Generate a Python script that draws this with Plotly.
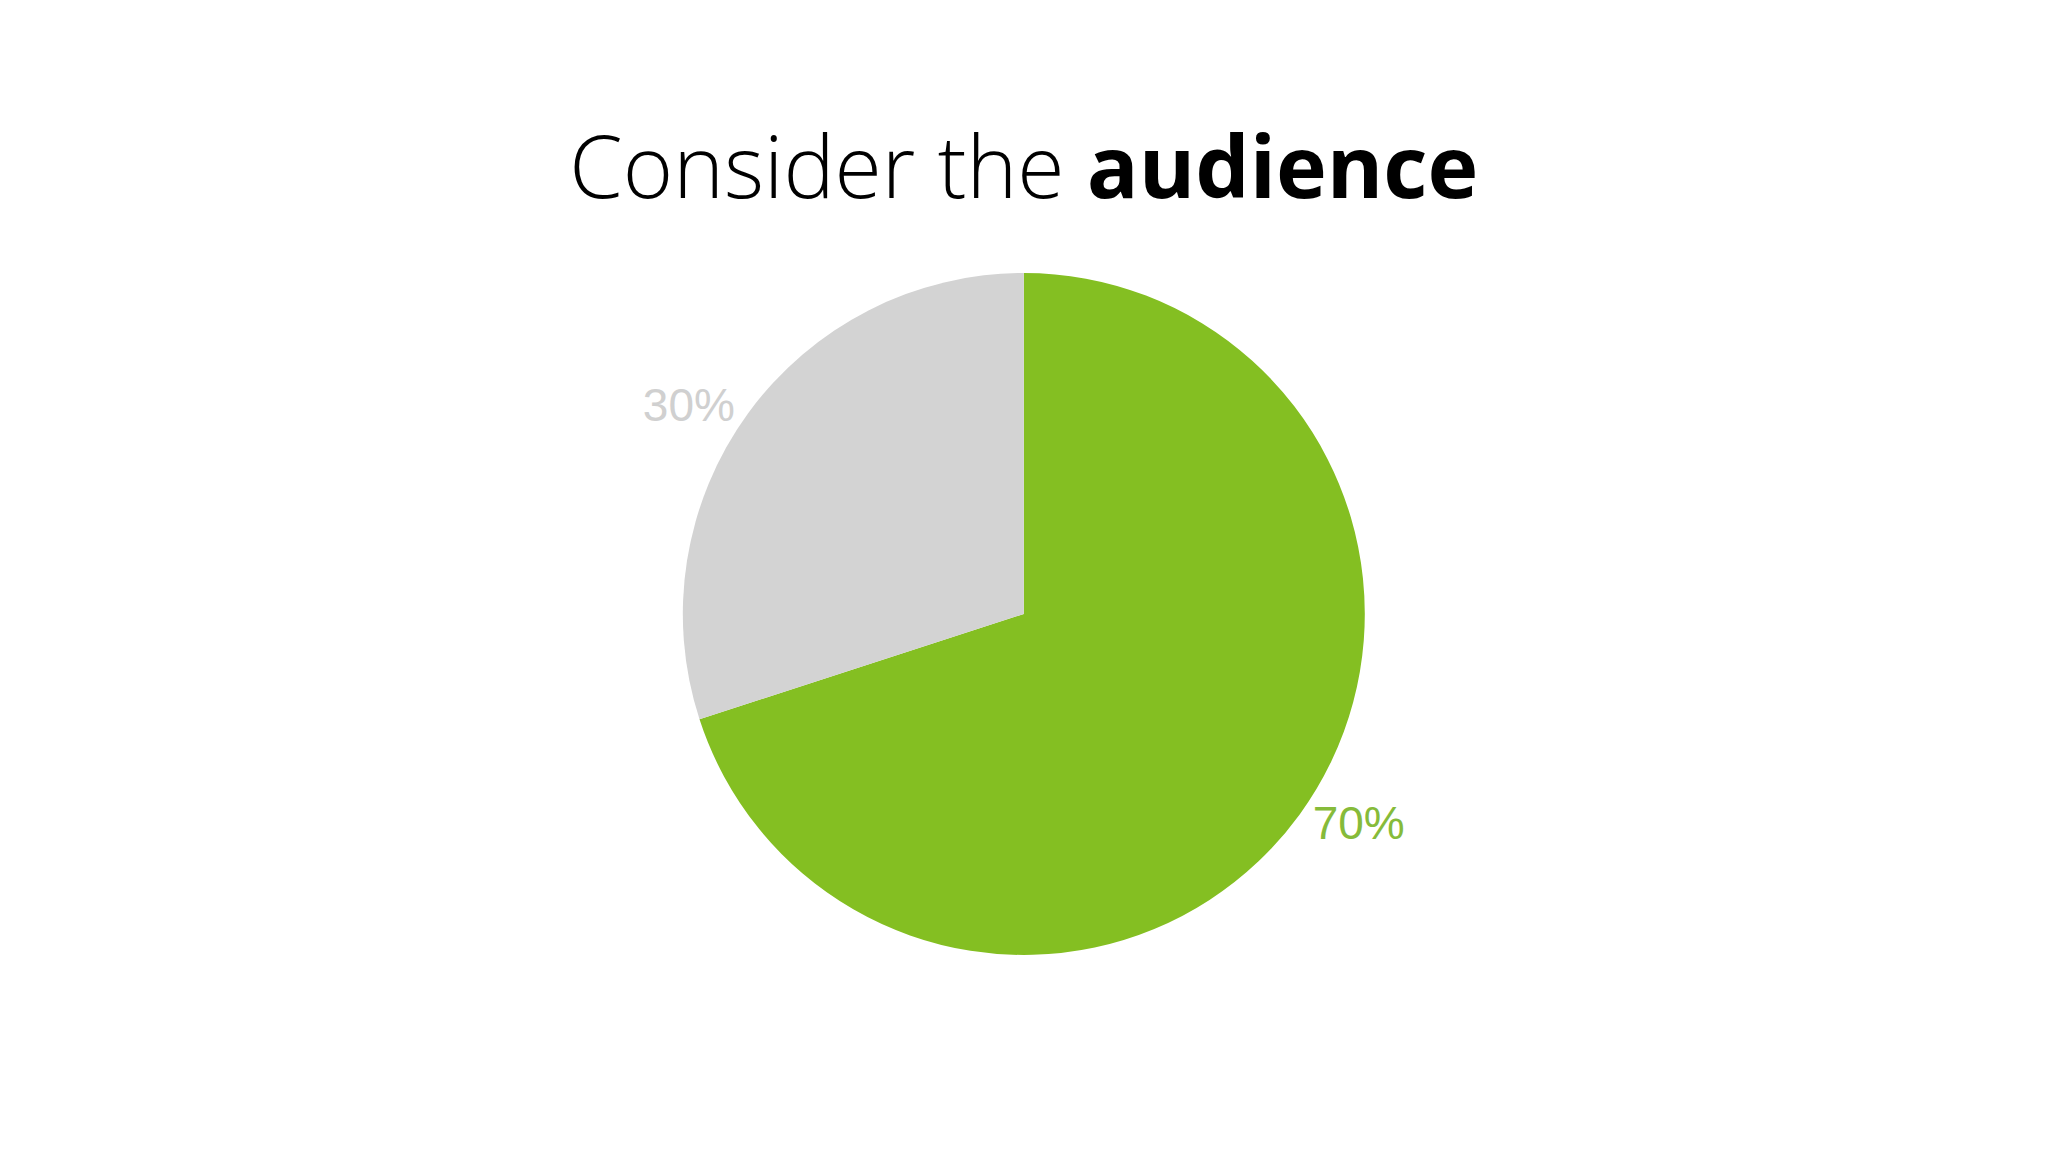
import plotly.graph_objects as go

labels = ["Audience", "Other"]
values = [70, 30]
slice_colors = ["#84bf22", "#d3d3d3"]
label_colors = ["#86bb3a", "#d0d0d0"]
title_text = "Consider the <b>audience</b>"

fig = go.Figure(
    go.Pie(
        labels=labels,
        values=values,
        sort=False,
        direction="clockwise",
        rotation=0,
        marker=dict(colors=slice_colors, line=dict(width=0)),
        textposition="outside",
        texttemplate="%{percent:.0%}",
        outsidetextfont=dict(family="Liberation Sans, Arial, sans-serif", size=46, color=label_colors),
        hoverinfo="label+percent",
        domain=dict(x=[0.196, 0.796], y=[0.178, 0.770]),
        showlegend=False,
    )
)

fig.update_layout(
    width=2048,
    height=1152,
    paper_bgcolor="white",
    plot_bgcolor="white",
    margin=dict(l=0, r=0, t=0, b=0),
    title=dict(
        text=title_text,
        x=0.496,
        xanchor="center",
        y=1 - 160 / 1152,
        yanchor="middle",
        font=dict(family="Open Sans, Lato, sans-serif", size=86, color="#000000", weight=300),
    ),
)

fig.write_html("out.html")
